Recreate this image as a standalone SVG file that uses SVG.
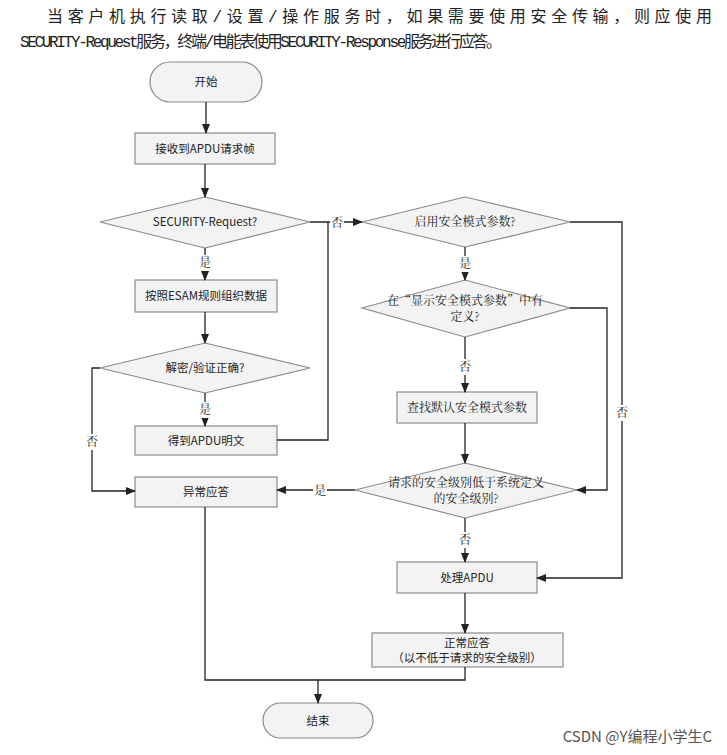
<svg xmlns="http://www.w3.org/2000/svg" width="727" height="755" viewBox="0 0 727 755">
<style>
.n{fill:#f3f3f3;stroke:#8a8a8a;stroke-width:1.2}
.t{font-family:"Noto Sans CJK SC","Noto Sans",sans-serif;font-size:11.5px;fill:#222;text-anchor:middle}
.s{font-family:"Noto Serif CJK SC","Liberation Serif","Noto Sans CJK SC",serif;font-size:12px;fill:#222;text-anchor:middle}
.c{fill:none;stroke:#222;stroke-width:1.3}
.h{font-family:"Liberation Mono","Noto Sans CJK SC",monospace;font-size:16px;fill:#222}
</style>
<defs><marker id="a" markerWidth="10" markerHeight="8" refX="9" refY="4" orient="auto" markerUnits="userSpaceOnUse"><path d="M0,0L10,4L0,8z" fill="#222"/></marker></defs>
<rect width="727" height="755" fill="#fff"/>
<text class="h" x="47" y="22" textLength="665">当客户机执行读取/设置/操作服务时，如果需要使用安全传输，则应使用</text>
<text class="h" x="20" y="47" textLength="482">SECURITY-Request服务，终端/电能表使用SECURITY-Response服务进行应答。</text>
<g id="start"><rect class="n" x="150" y="62" width="112" height="40" rx="20"/><text class="t" x="206" y="86">开始</text></g>
<g id="recv"><rect class="n" x="135" y="133" width="140" height="31"/><text class="t" x="205" y="153">接收到APDU请求帧</text></g>
<g id="d1"><polygon class="n" points="100,222 205,197 310,222 205,248"/><text class="t" x="205" y="226">SECURITY-Request?</text></g>
<g id="esam"><rect class="n" x="135" y="280" width="142" height="32"/><text class="t" x="206" y="300">按照ESAM规则组织数据</text></g>
<g id="d2"><polygon class="n" points="100,368 205,343 310,368 205,393"/><text class="t" x="205" y="372">解密/验证正确?</text></g>
<g id="plain"><rect class="n" x="135" y="426" width="142" height="29"/><text class="t" x="206" y="445">得到APDU明文</text></g>
<g id="err"><rect class="n" x="135" y="477" width="142" height="30"/><text class="t" x="206" y="496">异常应答</text></g>
<g id="d3"><polygon class="n" points="362,222 465,197 570,222 465,247"/><text class="s" x="465" y="226">启用安全模式参数?</text></g>
<g id="d4"><polygon class="n" points="362,308 465,280 570,308 465,337"/><text class="s" x="465" y="305">在“显示安全模式参数”中有</text><text class="s" x="465" y="321">定义?</text></g>
<g id="find"><rect class="n" x="397" y="392" width="140" height="31"/><text class="s" x="467" y="412">查找默认安全模式参数</text></g>
<g id="d5"><polygon class="n" points="355,490 465,463 577,490 465,518"/><text class="s" x="466" y="487">请求的安全级别低于系统定义</text><text class="s" x="466" y="503">的安全级别?</text></g>
<g id="proc"><rect class="n" x="397" y="562" width="140" height="31"/><text class="t" x="467" y="582">处理APDU</text></g>
<g id="ok"><rect class="n" x="372" y="633" width="191" height="34"/><text class="t" x="467" y="647">正常应答</text><text class="t" x="467" y="662">（以不低于请求的安全级别）</text></g>
<g id="end"><rect class="n" x="263" y="703" width="110" height="35" rx="17.5"/><text class="t" x="318" y="725">结束</text></g>
<g id="connectors">
<path class="c" d="M206,102V133" marker-end="url(#a)"/>
<path class="c" d="M205,164V197" marker-end="url(#a)"/>
<path class="c" d="M205,248V280" marker-end="url(#a)"/>
<path class="c" d="M205,312V343" marker-end="url(#a)"/>
<path class="c" d="M205,393V426" marker-end="url(#a)"/>
<path class="c" d="M100,368H92V491H135" marker-end="url(#a)"/>
<path class="c" d="M310,222H362" marker-end="url(#a)"/>
<path class="c" d="M277,440H328V222"/>
<path class="c" d="M465,247V280" marker-end="url(#a)"/>
<path class="c" d="M465,337V392" marker-end="url(#a)"/>
<path class="c" d="M465,423V463" marker-end="url(#a)"/>
<path class="c" d="M570,308H607V490H577" marker-end="url(#a)"/>
<path class="c" d="M570,222H622V578H537" marker-end="url(#a)"/>
<path class="c" d="M355,490H277" marker-end="url(#a)"/>
<path class="c" d="M465,518V562" marker-end="url(#a)"/>
<path class="c" d="M465,593V633" marker-end="url(#a)"/>
<path class="c" d="M465,667V680H318"/>
<path class="c" d="M205,507V680H318V703" marker-end="url(#a)"/>
</g>
<g id="labels" class="s">
<rect x="330" y="214" width="14" height="16" fill="#fff"/><text class="s" x="337" y="227">否</text>
<rect x="198" y="255" width="14" height="16" fill="#fff"/><text class="s" x="205" y="267">是</text>
<rect x="198" y="402" width="14" height="16" fill="#fff"/><text class="s" x="205" y="414">是</text>
<rect x="85" y="434" width="14" height="16" fill="#fff"/><text class="s" x="92" y="446">否</text>
<rect x="458" y="256" width="14" height="16" fill="#fff"/><text class="s" x="465" y="268">是</text>
<rect x="458" y="359" width="14" height="16" fill="#fff"/><text class="s" x="465" y="371">否</text>
<rect x="615" y="405" width="14" height="16" fill="#fff"/><text class="s" x="622" y="417">否</text>
<rect x="313" y="483" width="14" height="16" fill="#fff"/><text class="s" x="320" y="495">是</text>
<rect x="458" y="532" width="14" height="16" fill="#fff"/><text class="s" x="465" y="544">否</text>
</g>
<text x="712" y="742" font-family="Noto Sans CJK SC,sans-serif" font-size="15" fill="#555" text-anchor="end">CSDN @Y编程小学生C</text>
</svg>
